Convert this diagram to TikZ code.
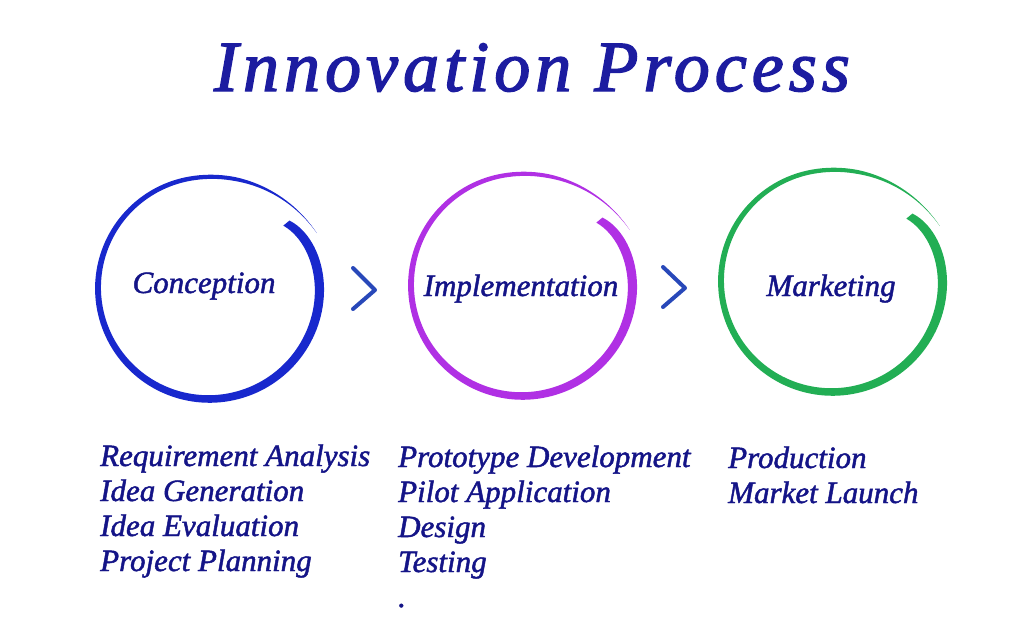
\documentclass[tikz,border=0pt]{standalone}
\usepackage{fontspec}
\usepackage{xcolor}
\usepackage{tikz}
\setmainfont{Liberation Serif}
\newfontfamily\titlefont[LetterSpace=7, FakeBold=2]{Liberation Serif}
\newfontfamily\itemfont[FakeBold=1.5]{Liberation Serif}
\definecolor{inkblue}{RGB}{20,20,135}
\definecolor{titleblue}{RGB}{28,28,160}
\definecolor{ringblue}{RGB}{24,40,205}
\definecolor{ringpurple}{RGB}{176,48,228}
\definecolor{ringgreen}{RGB}{34,174,84}
\definecolor{chevblue}{RGB}{40,72,185}
\tikzset{
	heading/.style = {font=\titlefont\itshape\fontsize{72}{80}\selectfont, text=titleblue, inner sep=0pt},
	stage/.style   = {font=\itemfont\itshape\fontsize{31}{35}\selectfont, text=inkblue, inner sep=0pt},
	tasks/.style   = {stage, align=left},
	chevron/.style = {draw=chevblue, line width=4, line cap=round, line join=round},
	declare function = {
		rr(\t) = 111-10*exp(-min(\t/14,9))+10*(max(0,\t-300)/73)^2;
		ww(\t) = (10-7*\t/373-2*exp(-min(\t/12,9)))*min(1,(373-\t)/50);
	}
}
% hand drawn ring: #1 centre, #2 colour
\newcommand{\brushring}[2]{%
	\fill[#2, shift={#1}]
	plot[variable=\t, domain=0:373, samples=160]
		({(rr(\t)+ww(\t)/2)*cos(40-\t)}, {-(rr(\t)+ww(\t)/2)*sin(40-\t)})
	-- plot[variable=\t, domain=373:0, samples=160]
		({(rr(\t)-ww(\t)/2)*cos(40-\t)}, {-(rr(\t)-ww(\t)/2)*sin(40-\t)})
	-- cycle;}

\begin{document}
\begin{tikzpicture}
[
x = 1pt,
y = -1pt
]
\useasboundingbox (0,0) rectangle (1022,627);
\node [heading, anchor=base] (title) at (532,91) {Innovation Process};

% rings
\brushring{(209,288)}{ringblue}
\brushring{(522,285)}{ringpurple}
\brushring{(832,281)}{ringgreen}

\node [stage, anchor=base] (conception) at (204,293) {Conception};
\node [stage, anchor=base] (implementation) at (521,296) {Implementation};
\node [stage, anchor=base] (marketing) at (831,296) {Marketing};

% chevrons
\coordinate (chevA) at (364,288);
\coordinate (chevB) at (674,287);
\draw [chevron] ([shift={(-11,-20)}]chevA) -- ([shift={(11,2)}]chevA) -- ([shift={(-11,21)}]chevA);
\draw [chevron] ([shift={(-11,-20)}]chevB) -- ([shift={(11,1)}]chevB) -- ([shift={(-11,20)}]chevB);

% lists (anchored on the last line)
\node [tasks, anchor=base west] (conceptlist) at (100,571)
	{Requirement Analysis\\Idea Generation\\Idea Evaluation\\Project Planning};
\node [tasks, anchor=base west] (implist) at (398,607)
	{Prototype Development\\Pilot Application\\Design\\Testing\\.};
\node [tasks, anchor=base west] (marketlist) at (728,503)
	{Production\\Market Launch};
\end{tikzpicture}
\end{document}
